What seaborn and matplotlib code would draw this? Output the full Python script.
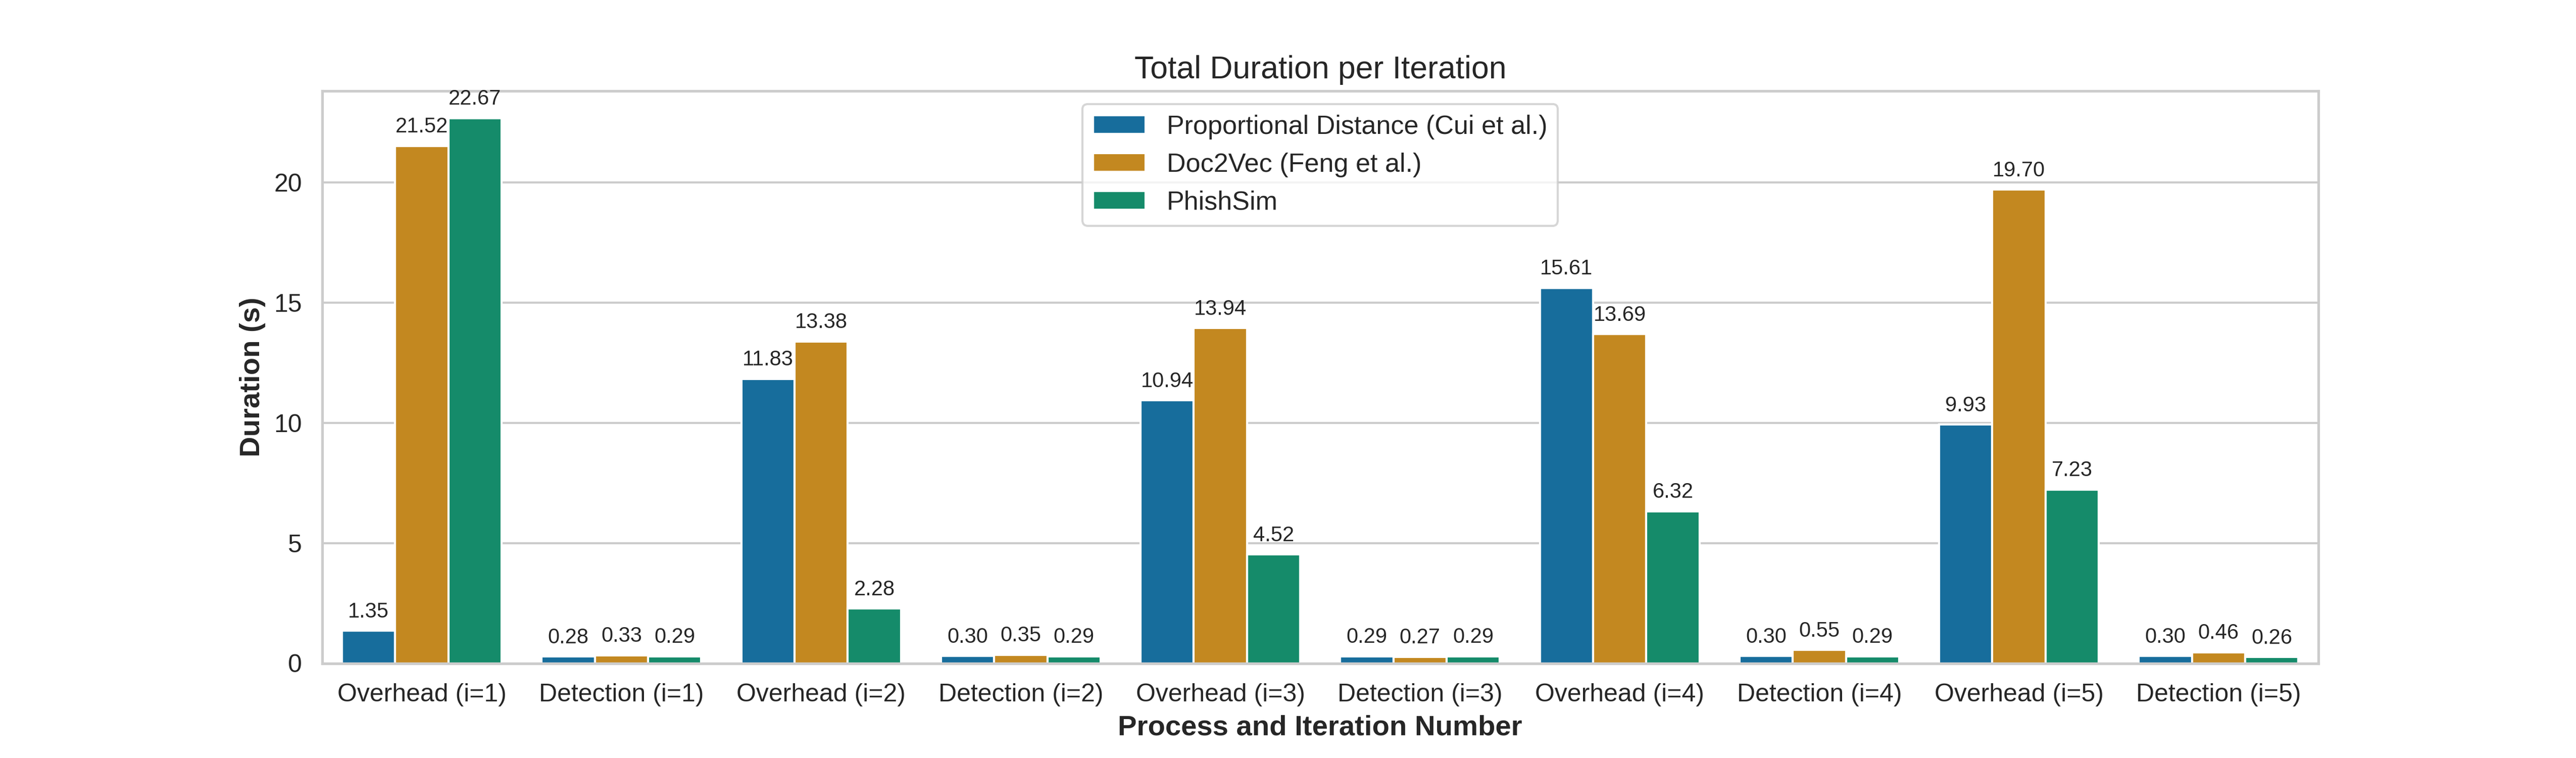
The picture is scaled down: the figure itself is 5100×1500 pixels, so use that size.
import pandas as pd
import seaborn as sns
import matplotlib.pyplot as plt

# Values
stages = ['Overhead (i=1)', 'Detection (i=1)', 'Overhead (i=2)', 'Detection (i=2)',
          'Overhead (i=3)', 'Detection (i=3)', 'Overhead (i=4)', 'Detection (i=4)',
          'Overhead (i=5)', 'Detection (i=5)']
methods = ['Proportional Distance (Cui et al.)', 'Doc2Vec (Feng et al.)', 'PhishSim']
prop_distance = [1.35, 0.28, 11.83, 0.30, 10.94, 0.29, 15.61, 0.30, 9.93, 0.30]
doc2vec = [21.52, 0.33, 13.38, 0.35, 13.94, 0.27, 13.69, 0.55, 19.70, 0.46]
phishsim = [22.67, 0.29, 2.28, 0.29, 4.52, 0.29, 6.32, 0.29, 7.23, 0.26]

# Build long-form table for seaborn
rows = []
for method, vals in zip(methods, [prop_distance, doc2vec, phishsim]):
    for stage, v in zip(stages, vals):
        rows.append({'Stage': stage, 'Method': method, 'Duration': v})
df = pd.DataFrame(rows)

sns.set_theme(style='whitegrid')
plt.rcParams['font.family'] = ['Liberation Sans', 'DejaVu Sans']

fig, ax = plt.subplots(figsize=(17, 5), dpi=300)
fig.subplots_adjust(bottom=0.125)
sns.barplot(data=df, x='Stage', y='Duration', hue='Method', order=stages,
            hue_order=methods, palette='colorblind', ax=ax,
            edgecolor='white', linewidth=1)

# Value labels on top of each bar
for container in ax.containers:
    for bar in container:
        h = bar.get_height()
        ax.annotate(format(h, '.2f'), (bar.get_x() + bar.get_width() / 2., h),
                    ha='center', va='center', xytext=(0, 9),
                    textcoords='offset points', fontsize=10)

ax.set_title('Total Duration per Iteration', fontsize=15)
ax.set_xlabel('Process and Iteration Number', fontsize=13.5, fontweight='bold')
ax.set_ylabel('Duration (s)', fontsize=13.5, fontweight='bold')
ax.tick_params(axis='both', labelsize=12)
ax.legend(loc='upper center', fontsize=12.5)

plt.savefig('out.png', dpi=300)
